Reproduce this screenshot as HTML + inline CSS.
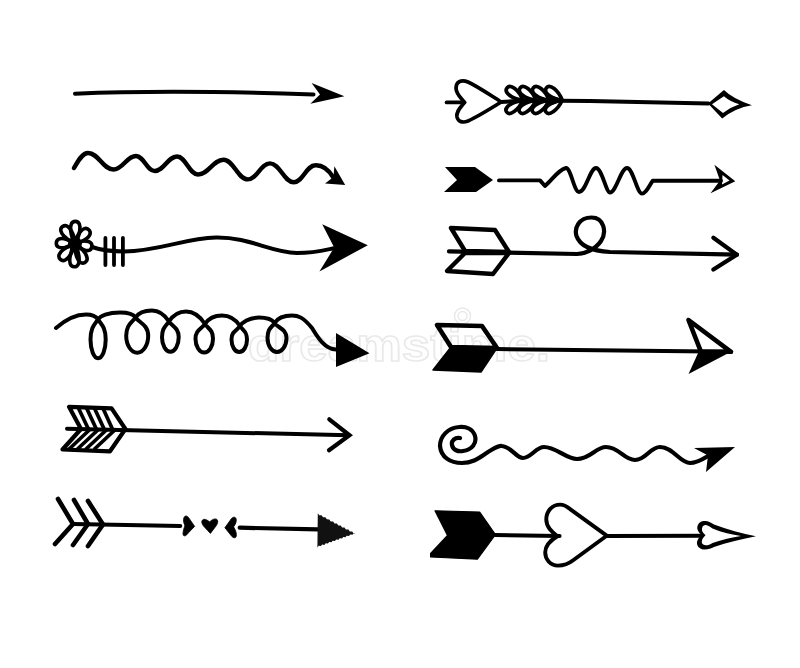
<!DOCTYPE html>
<html><head><meta charset="utf-8"><style>
html,body{margin:0;padding:0;background:#fff;width:800px;height:668px;overflow:hidden;font-family:"Liberation Sans",sans-serif;}
svg{display:block}
</style></head><body>
<svg width="800" height="668" viewBox="0 0 800 668">
<rect width="800" height="668" fill="#fff"/>
<text x="248" y="361" font-family="Liberation Sans" font-weight="bold" font-size="47" fill="none" stroke="#e9e9e9" stroke-width="1.6" textLength="302" lengthAdjust="spacingAndGlyphs">dreamstime.</text>
<circle cx="462.5" cy="316" r="8" fill="none" stroke="#e8e8e8" stroke-width="1.4"/><circle cx="462.5" cy="316" r="4.5" fill="none" stroke="#e8e8e8" stroke-width="1.4"/>
<path d="M75,93.7 Q170,89.4 313.5,94.4" fill="none" stroke="#000" stroke-width="4" stroke-linecap="round" stroke-linejoin="round"/>
<polygon points="311.6,83.1 344.4,96.2 310.3,103.8 320,94.4" fill="#000" stroke="none" stroke-width="0" stroke-linejoin="miter"/>
<path d="M74,168 C77.5,162 82.1,153 88,153 C98.7,153 102.8,169.5 113.5,169.5 C123,169.5 126.5,156 136,156 C143.9,156 146.8,171 154.7,171 C164.1,171 167.6,156.5 177,156.5 C185.8,156.5 189.2,174.5 198,174.5 C208.7,174.5 212.8,159.7 223.5,159.7 C233.7,159.7 237.6,179.4 247.8,179.4 C257.1,179.4 260.7,163.4 270,163.4 C280,163.4 283.8,182.2 293.8,182.2 C302.9,182.2 306.3,165.3 315.4,165.3 C322,165 328,169 333,177" fill="none" stroke="#000" stroke-width="4.4" stroke-linecap="round" stroke-linejoin="round"/>
<polygon points="334.4,166.3 345.2,185 325,183.6 331.5,178.5 333.6,175.5" fill="#000" stroke="none" stroke-width="0" stroke-linejoin="miter"/>
<path d="M0,0 C5.9,-3.9 22.2,-8.2 22.2,0 C22.2,8.2 5.9,3.9 0,0 Z" transform="translate(75 243.6) rotate(-89)" fill="none" stroke="#000" stroke-width="3.6" stroke-linejoin="round"/>
<path d="M0,0 C5.1,-3.9 19.5,-8.2 19.5,0 C19.5,8.2 5.1,3.9 0,0 Z" transform="translate(75 243.6) rotate(-45)" fill="none" stroke="#000" stroke-width="3.6" stroke-linejoin="round"/>
<path d="M0,0 C4.4,-3.9 17.1,-8.2 17.1,0 C17.1,8.2 4.4,3.9 0,0 Z" transform="translate(75 243.6) rotate(11)" fill="none" stroke="#000" stroke-width="3.6" stroke-linejoin="round"/>
<path d="M0,0 C5.6,-3.9 21.3,-8.2 21.3,0 C21.3,8.2 5.6,3.9 0,0 Z" transform="translate(75 243.6) rotate(62.7)" fill="none" stroke="#000" stroke-width="3.6" stroke-linejoin="round"/>
<path d="M0,0 C6.2,-3.9 23.2,-8.2 23.2,0 C23.2,8.2 6.2,3.9 0,0 Z" transform="translate(75 243.6) rotate(92)" fill="none" stroke="#000" stroke-width="3.6" stroke-linejoin="round"/>
<path d="M0,0 C5.7,-3.9 21.5,-8.2 21.5,0 C21.5,8.2 5.7,3.9 0,0 Z" transform="translate(75 243.6) rotate(133)" fill="none" stroke="#000" stroke-width="3.6" stroke-linejoin="round"/>
<path d="M0,0 C4.8,-3.9 18.7,-8.2 18.7,0 C18.7,8.2 4.8,3.9 0,0 Z" transform="translate(75 243.6) rotate(182)" fill="none" stroke="#000" stroke-width="3.6" stroke-linejoin="round"/>
<path d="M0,0 C5.5,-3.9 21.1,-8.2 21.1,0 C21.1,8.2 5.5,3.9 0,0 Z" transform="translate(75 243.6) rotate(234)" fill="none" stroke="#000" stroke-width="3.6" stroke-linejoin="round"/>
<circle cx="75" cy="243.6" r="7" fill="#000"/>
<polyline points="105.4,238 105.4,265" fill="none" stroke="#000" stroke-width="3.8" stroke-linecap="round" stroke-linejoin="round"/>
<polyline points="114,238 114,265" fill="none" stroke="#000" stroke-width="3.8" stroke-linecap="round" stroke-linejoin="round"/>
<polyline points="122.9,238 122.9,265" fill="none" stroke="#000" stroke-width="3.8" stroke-linecap="round" stroke-linejoin="round"/>
<path d="M92,247 Q105,251.5 124,251.5 C160,251 185,238 216,237.5 C250,237 270,252.5 297,253 C315,253 325,250 335,248" fill="none" stroke="#000" stroke-width="4" stroke-linecap="round" stroke-linejoin="round"/>
<polygon points="322.2,224.2 367.8,245.3 319.4,271.4 334.2,247.6" fill="#000" stroke="none" stroke-width="0" stroke-linejoin="miter"/>
<path d="M56,328 C64,321 74,314.5 86,314.5 C92.6,314.5 95.8,316.1 98,319.5 C101.3,324.5 105.7,327.1 105.7,339.6 C105.7,349.8 102.3,358.2 98.1,358.2 C93.9,358.2 90.5,349.8 90.5,339.6 C90.5,327.1 94.7,324.5 98,319.5 C100.2,316.1 107.9,312.5 120,312.5 C128.5,312.5 133.3,314.1 135.5,317.5 C138.8,322.5 148.2,324.5 148.2,335.8 C148.2,345.1 143.2,352.7 137.2,352.7 C131.2,352.7 126.2,345.1 126.2,335.8 C126.2,324.5 132.2,322.5 135.5,317.5 C137.7,314.1 142.9,310.5 152,310.5 C161.3,310.5 166.8,318.1 169,321.5 C172.3,326.5 178.7,327.5 178.7,337.3 C178.7,345.3 174.9,351.8 170.3,351.8 C165.8,351.8 162,345.3 162,337.3 C162,327.5 165.7,326.5 169,321.5 C171.2,318.1 176.7,311.5 186,311.5 C196.4,311.5 202.8,320.6 205,324 C208.3,329 213,329.6 213,338.8 C213,346.3 209.1,352.5 204.2,352.5 C199.4,352.5 195.5,346.3 195.5,338.8 C195.5,329.6 201.7,329 205,324 C207.2,320.6 212.7,315.5 222,315.5 C231.9,315.5 237.8,322.6 240,326 C243.3,331 247,331.1 247,339.5 C247,346.4 243.5,352 239.2,352 C235,352 231.5,346.4 231.5,339.5 C231.5,331.1 236.7,331 240,326 C242.2,322.6 248.6,317.5 259,317.5 C267.5,317.5 272.3,319.6 274.5,323 C277.8,328 286.5,328.7 286.5,338.1 C286.5,345.7 282.2,352 277,352 C271.8,352 267.5,345.7 267.5,338.1 C267.5,328.7 271.2,328 274.5,323 C276.7,319.6 282.4,315.5 292,315.5 C298,315.5 303,317 312,328 C318,338 325,349 336,349.5" fill="none" stroke="#000" stroke-width="4" stroke-linecap="round" stroke-linejoin="round"/>
<polygon points="336,333 336,367 369.5,353.3" fill="#000" stroke="none" stroke-width="0" stroke-linejoin="miter"/>
<polyline points="67,428.8 349,435.3" fill="none" stroke="#000" stroke-width="4" stroke-linecap="round" stroke-linejoin="round"/>
<polygon points="69,406.8 111.6,408.3 125.4,429 110,451.3 62.5,449.5 81,429" fill="none" stroke="#000" stroke-width="4.2" stroke-linejoin="round"/>
<polyline points="77.9,407 88.4,429" fill="none" stroke="#000" stroke-width="3.7" stroke-linecap="butt" stroke-linejoin="round"/>
<polyline points="86.1,407 96.3,429" fill="none" stroke="#000" stroke-width="3.7" stroke-linecap="butt" stroke-linejoin="round"/>
<polyline points="93.9,407 104.1,429" fill="none" stroke="#000" stroke-width="3.7" stroke-linecap="butt" stroke-linejoin="round"/>
<polyline points="102.4,407 112.4,429" fill="none" stroke="#000" stroke-width="3.7" stroke-linecap="butt" stroke-linejoin="round"/>
<polyline points="90.4,429 68.6,449.5" fill="none" stroke="#000" stroke-width="3.7" stroke-linecap="butt" stroke-linejoin="round"/>
<polyline points="98.9,429 77,449.5" fill="none" stroke="#000" stroke-width="3.7" stroke-linecap="butt" stroke-linejoin="round"/>
<polyline points="107.4,429 85.5,449.5" fill="none" stroke="#000" stroke-width="3.7" stroke-linecap="butt" stroke-linejoin="round"/>
<polyline points="115.9,429 94,449.5" fill="none" stroke="#000" stroke-width="3.7" stroke-linecap="butt" stroke-linejoin="round"/>
<polyline points="329.3,419.3 349.5,435.3 329,450.3" fill="none" stroke="#000" stroke-width="4.2" stroke-linecap="round" stroke-linejoin="miter"/>
<polyline points="58,499 73,524 55,544" fill="none" stroke="#000" stroke-width="4.6" stroke-linecap="round" stroke-linejoin="round"/>
<polyline points="74,500 88,524 73,545" fill="none" stroke="#000" stroke-width="4.6" stroke-linecap="round" stroke-linejoin="round"/>
<polyline points="88,501 103,524.4 88,546" fill="none" stroke="#000" stroke-width="4.6" stroke-linecap="round" stroke-linejoin="round"/>
<polyline points="73,524 180.2,526" fill="none" stroke="#000" stroke-width="4.2" stroke-linecap="round" stroke-linejoin="round"/>
<path d="M185,525.5 C183.5,523 183,520 184,517.5 C185,515.5 187,515.5 188.5,517.5 L194.7,526.4 C192,529 189,532 186.5,535 C185,536.5 183,536 183,534 C183,531 184,528 185,525.5 Z" fill="#000" stroke="#000" stroke-width="0.8" stroke-linecap="round" stroke-linejoin="round"/>
<path d="M209.6,522 C207,519.5 204,518.5 202.5,520 C201,521.5 202,524 203.5,526 L210.4,533.4 L216,526 C217.5,524 218.5,521 217,519.5 C215,518 212,519.5 209.6,522 Z" fill="#000" stroke="#000" stroke-width="0.8" stroke-linecap="round" stroke-linejoin="round"/>
<path d="M233.6,526.8 C235.5,524.5 237,521 236,518.5 C235,516.5 233,517 231.5,518.5 L224.9,527.7 L231.5,536 C233,538 235.5,538.5 236.2,536.5 C237,534 235.5,530 233.6,526.8 Z" fill="#000" stroke="#000" stroke-width="0.8" stroke-linecap="round" stroke-linejoin="round"/>
<polyline points="239.7,527.7 318,529.4" fill="none" stroke="#000" stroke-width="4.2" stroke-linecap="round" stroke-linejoin="round"/>
<polygon points="317.8,513.3 319.2,515.3 321.6,515.3 323,517.3 325.4,517.3 326.9,519.3 329.3,519.4 330.7,521.4 333.1,521.4 334.5,523.4 336.9,523.4 338.3,525.4 340.7,525.4 342.1,527.4 344.5,527.4 345.9,529.5 348.4,529.5 349.8,531.5 352.2,531.5 353.6,533.5 356,533.5 353.7,533.1 352.5,534.8 350.2,534.4 349,536 346.7,535.7 345.5,537.3 343.2,536.9 342,538.6 339.7,538.2 338.5,539.8 336.2,539.5 334.9,541.1 332.7,540.7 331.4,542.3 329.2,542 327.9,543.6 325.7,543.2 324.4,544.9 322.2,544.5 320.9,546.1 318.7,545.8 317.4,547.4" fill="#111" stroke="none" stroke-width="0" stroke-linejoin="miter"/>
<polyline points="446.6,102.4 464.5,102.4" fill="none" stroke="#000" stroke-width="3.8" stroke-linecap="round" stroke-linejoin="round"/>
<path d="M501.2,102 C490,95 477,86 468,82 C461,79 456,82 456,88 C456,94 461,98 464.5,102.4 C461,107 456,111 457,117 C458,122 463,123 468,121 C477,117 490,109 501.2,102 Z" fill="none" stroke="#000" stroke-width="3.7" stroke-linecap="round" stroke-linejoin="round"/>
<polyline points="501.2,102 530,100.4 590,100.9 708.4,103.5" fill="none" stroke="#000" stroke-width="4" stroke-linecap="round" stroke-linejoin="round"/>
<path d="M16.2,0 C6.5,-5.8 -4,-5.6 -4,0 C-4,5.6 6.5,5.8 16.2,0 Z" transform="translate(510.2 90.3) rotate(38)" fill="none" stroke="#000" stroke-width="3.7" stroke-linejoin="round"/>
<path d="M16.3,0 C6.5,-5.5 -3.8,-5.3 -3.8,0 C-3.8,5.3 6.5,5.5 16.3,0 Z" transform="translate(509.7 109.8) rotate(-35.5)" fill="none" stroke="#000" stroke-width="3.7" stroke-linejoin="round"/>
<path d="M16.2,0 C6.5,-5.8 -4,-5.6 -4,0 C-4,5.6 6.5,5.8 16.2,0 Z" transform="translate(523.3 90.3) rotate(38)" fill="none" stroke="#000" stroke-width="3.7" stroke-linejoin="round"/>
<path d="M16.3,0 C6.5,-5.5 -3.8,-5.3 -3.8,0 C-3.8,5.3 6.5,5.5 16.3,0 Z" transform="translate(522.8 109.8) rotate(-35.5)" fill="none" stroke="#000" stroke-width="3.7" stroke-linejoin="round"/>
<path d="M16.2,0 C6.5,-5.8 -4,-5.6 -4,0 C-4,5.6 6.5,5.8 16.2,0 Z" transform="translate(536.4 90.3) rotate(38)" fill="none" stroke="#000" stroke-width="3.7" stroke-linejoin="round"/>
<path d="M16.3,0 C6.5,-5.5 -3.8,-5.3 -3.8,0 C-3.8,5.3 6.5,5.5 16.3,0 Z" transform="translate(535.9 109.8) rotate(-35.5)" fill="none" stroke="#000" stroke-width="3.7" stroke-linejoin="round"/>
<path d="M16.2,0 C6.5,-5.8 -4,-5.6 -4,0 C-4,5.6 6.5,5.8 16.2,0 Z" transform="translate(549.5 90.3) rotate(38)" fill="none" stroke="#000" stroke-width="3.7" stroke-linejoin="round"/>
<path d="M16.3,0 C6.5,-5.5 -3.8,-5.3 -3.8,0 C-3.8,5.3 6.5,5.5 16.3,0 Z" transform="translate(549 109.8) rotate(-35.5)" fill="none" stroke="#000" stroke-width="3.7" stroke-linejoin="round"/>
<polygon points="540,100.3 552,95.5 564,100.3 552,105" fill="#000" stroke="none" stroke-width="0" stroke-linejoin="miter"/>
<path d="M708,103.5 L723.9,90.1 Q733,99 751.9,105.3 Q735,108 722.2,118.6 Z M712,104.3 L723.9,96.2 Q730,101.5 739.3,104.3 Q731,107 723,112.9 Z" fill="#000" fill-rule="evenodd"/>
<polygon points="445,167 475,167 493,180 476,192 444,192 457,180" fill="#000" stroke="none" stroke-width="0" stroke-linejoin="miter"/>
<path d="M499,180.4 L540,180.4 L545,186 C552,180 558,170 566,168 C571,168 574,192 579,192 C586,192 590,168 596,168 C602,168 606,192.5 610,192.5 C616,192.5 621,168 627,168 C633,168 637,193.6 642,193.6 C646,193.6 649,186 652.8,180.7 L721,180.7" fill="none" stroke="#000" stroke-width="3.9" stroke-linecap="round" stroke-linejoin="round"/>
<path d="M714.4,164.8 L735.3,181.3 L710.5,193.2 L720,180.5 Z M722.5,175 L729.5,180.6 L722,184.5 Z" fill="#000" fill-rule="evenodd"/>
<polygon points="451,228 495,230 509,252 465,251" fill="none" stroke="#000" stroke-width="4.4" stroke-linejoin="round"/>
<polygon points="465,253 509,253 493,274 447,271" fill="none" stroke="#000" stroke-width="4.4" stroke-linejoin="round"/>
<path d="M449,251.4 L577,254 C584,254 595,250 601,241 C607,232 604,217.5 591.5,217.5 C579,217.5 574,228 576.5,236 C580,246 592,251 610,252 L737,254.7" fill="none" stroke="#000" stroke-width="4.2" stroke-linecap="round" stroke-linejoin="round"/>
<polyline points="713.4,237.7 736.8,254.7 713.4,269.6" fill="none" stroke="#000" stroke-width="4.2" stroke-linecap="round" stroke-linejoin="round"/>
<polygon points="437,325 482,326 497,348 451,347" fill="none" stroke="#000" stroke-width="4.6" stroke-linejoin="round"/>
<polygon points="451,347 497,348 481,372 433,370" fill="#000" stroke="#000" stroke-width="1.5" stroke-linejoin="round"/>
<polyline points="497,349 731,351.8" fill="none" stroke="#000" stroke-width="4" stroke-linecap="round" stroke-linejoin="round"/>
<polygon points="688.5,320 731,351.8 701,351.8" fill="none" stroke="#000" stroke-width="4.6" stroke-linejoin="round"/>
<polygon points="699,351 731,351.8 688.5,374" fill="#000" stroke="none" stroke-width="0" stroke-linejoin="miter"/>
<path d="M460,438 C455,437 451,441 452,445 C453,450 458,452 463,451 C472,450 477,443 475,436 C473,429 466,426 459,427 C448,428 440,436 440,446 C441,457 450,463 462,463 C474,463 480,457 488,452 C495,448 498,445.5 502,446 C512,447 516,458 523,458 C531,458 536,447 544,447 C556,447 566,459 577,459 C590,459 596,447 606,447 C619,447 624,460 635,460 C646,460 650,447 660,447 C673,447 680,463 690,463 C697,463 703,459 708,456" fill="none" stroke="#000" stroke-width="4.2" stroke-linecap="round" stroke-linejoin="round"/>
<polygon points="694,448 735,447 706,472 708,455.6" fill="#000" stroke="none" stroke-width="0" stroke-linejoin="miter"/>
<polygon points="435,510.8 479.7,512 495.4,534.6 477.4,559.2 430.6,557 430.6,553.5 447.5,535.5" fill="#000" stroke="#000" stroke-width="1.2" stroke-linejoin="round"/>
<polyline points="495,535 559.6,536" fill="none" stroke="#000" stroke-width="4" stroke-linecap="round" stroke-linejoin="round"/>
<path d="M557.4,536.2 C552,532 546,527 546.3,519 C546.5,511 552,504.6 560.2,504.6 C564,504.6 567,506.5 570.1,509.1 L606.7,535.7 L573.5,560 C569,563.5 564,565.6 558,565.6 C550,565.6 545.2,559 545.2,552.3 C545.2,545 551,540 557.4,536.2 Z" fill="none" stroke="#000" stroke-width="3.9" stroke-linecap="round" stroke-linejoin="round"/>
<polyline points="606.7,535.9 703,535.7" fill="none" stroke="#000" stroke-width="4" stroke-linecap="round" stroke-linejoin="round"/>
<path d="M702,535.3 C698,532 696.5,529 697.5,526 C699,521 703,520.7 706,521 C709,521.3 711,523 714,524.5 C727,529.5 742,533.5 756,536.3 C742,539 727,542.5 714,547 C711,548.5 707,550 703.5,549.5 C699,549 696.5,545.5 697,542 C697.5,539 699.5,537 702,535.3 Z" fill="#000"/>
<path d="M705.5,535.3 C703,533 701.5,531 702,528.5 C702.5,525.5 704.5,524.8 706,525 C708,525.3 710,527 712.5,528.5 C722,532.5 732,534.5 741,536 C732,537.5 722,539.5 712.5,543 C710,544.5 707.5,545.5 705.5,545.3 C703,545 701.5,543.5 701.8,541.5 C702,539 703.5,537.5 705.5,535.3 Z" fill="#fff"/>
</svg>
</body></html>
